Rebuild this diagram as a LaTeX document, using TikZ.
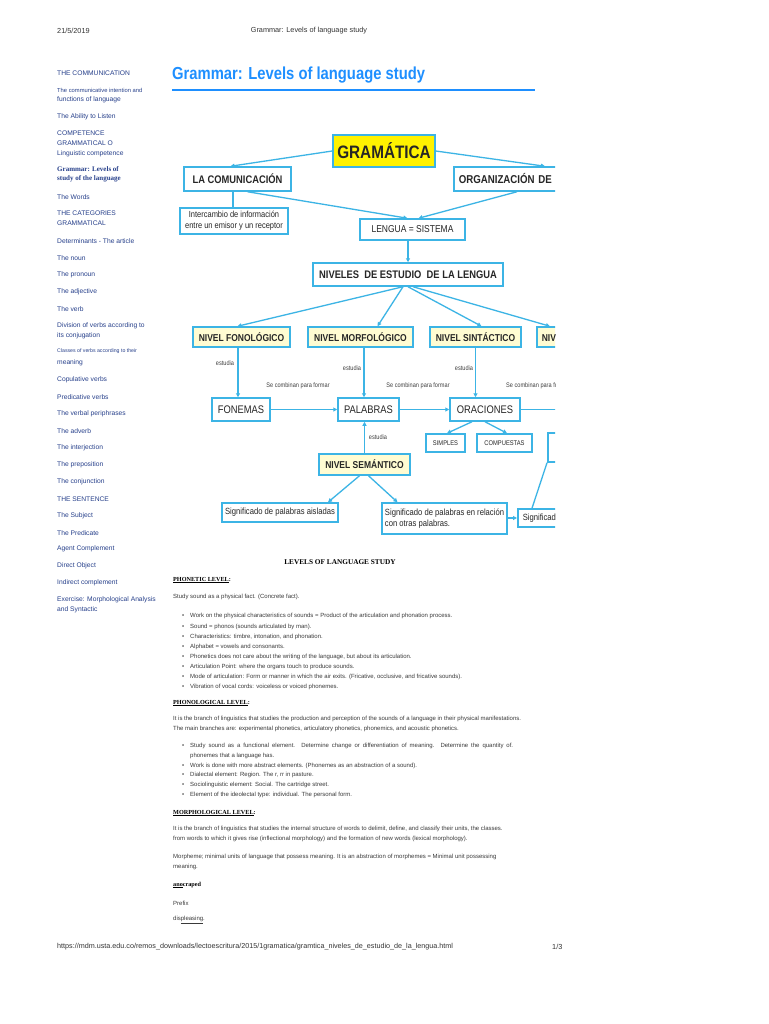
\documentclass[tikz,border=0pt]{standalone}
\usepackage{fontspec}
\setmainfont{Liberation Sans}
\newfontfamily\mapfont[FakeStretch=0.85]{Liberation Sans}
\newfontfamily\docserif{Liberation Serif}
\usetikzlibrary{arrows.meta}

\definecolor{mapcyan}{HTML}{3CB4E5}
\definecolor{lvlfill}{HTML}{FFFCD2}
\definecolor{sideblue}{HTML}{27408B}
\definecolor{titleblue}{HTML}{1E8FFF}
\definecolor{bodygray}{HTML}{3A3A3A}

\tikzset{
  headtext/.style={anchor=west, inner sep=0pt, text=black!80, font=\fontsize{7.3}{8}\selectfont},
  sidetext/.style={anchor=west, inner sep=0pt, text=sideblue, font=\fontsize{6.7}{8}\selectfont},
  bodytext/.style={anchor=west, inner sep=0pt, text=bodygray, font=\fontsize{6}{7}\selectfont},
  bodyhead/.style={anchor=west, inner sep=0pt, text=black, font=\docserif\bfseries\fontsize{6.2}{7}\selectfont},
  mapbox/.style={draw=mapcyan, line width=1.5pt, fill=white, inner sep=1pt, align=center, text=black!85, font=\mapfont\fontsize{11}{12}\selectfont},
  levelbox/.style={mapbox, fill=lvlfill, font=\mapfont\bfseries\fontsize{10}{12}\selectfont},
  cutbox/.style={mapbox, anchor=west, align=left, inner xsep=5pt},
  maparr/.style={draw=mapcyan, line width=1.3pt, -{Triangle[length=4pt,width=4pt]}},
  mapline/.style={draw=mapcyan, line width=1.3pt},
  maplabel/.style={inner sep=0pt, text=black!75, font=\mapfont\fontsize{6.6}{7}\selectfont},
}

\begin{document}
\begin{tikzpicture}[x=1pt,y=-1pt]
\useasboundingbox[fill=white] (0,0) rectangle (768,1024);

% page header and footer
\node[headtext] (date) at (57,31) {21/5/2019};
\node[headtext, anchor=center] (htitle) at (309,31) {Grammar: Levels of language study};
\node[headtext, font=\fontsize{7.2}{8}\selectfont] (url) at (57,947) {https://mdm.usta.edu.co/remos\_downloads/lectoescritura/2015/1gramatica/gramtica\_niveles\_de\_estudio\_de\_la\_lengua.html};
\node[headtext] (pg) at (552,947) {1/3};

% side menu
\foreach \y/\t [count=\i] in {73/{THE COMMUNICATION}, 100/{functions of language},
    117/{The Ability to Listen}, 133/{COMPETENCE}, 143/{GRAMMATICAL O},
    154/{Linguistic competence}, 197/{The Words}, 213/{THE CATEGORIES},
    223/{GRAMMATICAL}, 241/{Determinants - The article}, 258/{The noun},
    275/{The pronoun}, 292/{The adjective}, 309/{The verb},
    326/{Division of verbs according to}, 336/{its conjugation}, 363/{meaning},
    380/{Copulative verbs}, 397/{Predicative verbs}, 414/{The verbal periphrases},
    431/{The adverb}, 448/{The interjection}, 465/{The preposition},
    482/{The conjunction}, 499/{THE SENTENCE}, 516/{The Subject},
    533/{The Predicate}, 549/{Agent Complement}, 566/{Direct Object},
    583/{Indirect complement}, 600/{Exercise: Morphological Analysis}, 610/{and Syntactic}}
  \node[sidetext] (side\i) at (57,\y) {\t};
\node[sidetext, font=\fontsize{5.8}{7}\selectfont] (sidesmall1) at (57,90) {The communicative intention and};
\node[sidetext, font=\fontsize{5.2}{6}\selectfont] (sidesmall2) at (57,351) {Classes of verbs according to their};
\node[sidetext, font=\docserif\bfseries\fontsize{7}{8}\selectfont] (sideserif1) at (57,169) {Grammar: Levels of};
\node[sidetext, font=\docserif\bfseries\fontsize{7}{8}\selectfont] (sideserif2) at (57,179) {study of the language};

% title
\node[anchor=west, inner sep=0pt, text=titleblue, font=\mapfont\bfseries\fontsize{17.4}{20}\selectfont] (title) at (172,75) {Grammar: Levels of language study};
\coordinate (rulestart) at (172,90);
\coordinate (ruleend) at (535,90);
\draw[titleblue, line width=2.5pt] (rulestart) -- (ruleend);

% concept map
\begin{scope}
\clip (165,128) rectangle (555,545);
\node[mapbox, fill=yellow, font=\mapfont\bfseries\fontsize{18}{20}\selectfont, minimum width=102, minimum height=32] (gram) at (384,151) {GRAMÁTICA};
\node[mapbox, font=\mapfont\bfseries\fontsize{11}{12}\selectfont, minimum width=107, minimum height=24] (comu) at (237.5,179) {LA COMUNICACIÓN};
\node[cutbox, font=\mapfont\bfseries\fontsize{11.4}{12}\selectfont, text width=200, minimum height=24] (org) at (453,179) {ORGANIZACIÓN\ DE LA LENGUA};
\node[mapbox, font=\mapfont\fontsize{8.8}{11}\selectfont, minimum width=108, minimum height=26] (inter) at (234,221) {Intercambio de información\\entre un emisor y un receptor};
\node[mapbox, font=\mapfont\fontsize{10}{12}\selectfont, minimum width=105, minimum height=21] (lengua) at (412.5,229.5) {LENGUA = SISTEMA};
\node[mapbox, font=\mapfont\bfseries\fontsize{11}{12}\selectfont, minimum width=190, minimum height=23] (niveles) at (408,274.5) {NIVELES\ \ DE ESTUDIO\ \ DE LA LENGUA};

\node[levelbox, minimum width=97, minimum height=20] (fono) at (241.5,337) {NIVEL FONOLÓGICO};
\node[levelbox, minimum width=105, minimum height=20] (morfo) at (360.5,337) {NIVEL MORFOLÓGICO};
\node[levelbox, minimum width=91, minimum height=20] (sint) at (475.5,337) {NIVEL SINTÁCTICO};
\node[cutbox, fill=lvlfill, font=\mapfont\bfseries\fontsize{10}{12}\selectfont, text width=150, minimum height=20] (nivx) at (536,337) {NIVEL SEMÁNTICO};

\node[mapbox, minimum width=58, minimum height=23] (fonemas) at (241,409.5) {FONEMAS};
\node[mapbox, minimum width=61, minimum height=23] (palabras) at (368.5,409.5) {PALABRAS};
\node[mapbox, minimum width=70, minimum height=23] (oraciones) at (485,409.5) {ORACIONES};
\node[mapbox, font=\mapfont\fontsize{6.8}{8}\selectfont, minimum width=39, minimum height=18] (simples) at (445.5,443) {SIMPLES};
\node[mapbox, font=\mapfont\fontsize{6.8}{8}\selectfont, minimum width=55, minimum height=18] (compuestas) at (504.5,443) {COMPUESTAS};
\node[levelbox, minimum width=91, minimum height=21] (sem) at (364.5,464.5) {NIVEL SEMÁNTICO};

\node[mapbox, font=\mapfont\fontsize{9}{11}\selectfont, minimum width=116, minimum height=19] (sigaisl) at (280,512.5) {Significado de palabras aisladas};
\node[mapbox, font=\mapfont\fontsize{9}{11}\selectfont, align=left, minimum width=125, minimum height=31] (sigrel) at (444.5,518.5) {Significado de palabras en relación\\con otras palabras.};
\node[cutbox, font=\mapfont\fontsize{9}{11}\selectfont, text width=150, minimum height=18] (sigtxt) at (517,518) {Significado de oraciones};
\node[cutbox, text width=40, minimum height=29] (brk) at (547,447.5) {};
\coordinate (oraout) at (600,409.5);

% connectors
\draw[maparr] (gram.west) -- ([xshift=-7]comu.north);
\draw[maparr] (gram.east) -- ([xshift=92]org.north west);
\draw[mapline] ([xshift=-4.5]comu.south) -- ([xshift=-4.5]comu.south |- inter.north);
\draw[maparr] ([xshift=10]comu.south) -- ([xshift=-5]lengua.north);
\draw[maparr] ([xshift=64]org.south west) -- ([xshift=6]lengua.north);
\draw[maparr] (lengua.south -| niveles.north) -- (niveles.north);
\draw[maparr] ([xshift=-5]niveles.south) -- ([xshift=-4]fono.north);
\draw[maparr] ([xshift=-5]niveles.south) -- ([xshift=17]morfo.north);
\draw[maparr] ([xshift=0]niveles.south) -- ([xshift=6]sint.north);
\draw[maparr] ([xshift=5]niveles.south) -- ([xshift=14]nivx.north west);
\draw[maparr] ([xshift=-3.5]fono.south) -- ([xshift=-3.5]fono.south |- fonemas.north);
\draw[maparr] ([xshift=3.5]morfo.south) -- ([xshift=3.5]morfo.south |- palabras.north);
\draw[maparr] (sint.south) -- (sint.south |- oraciones.north);
\draw[maparr] (fonemas.east) -- (palabras.west);
\draw[maparr] (palabras.east) -- (oraciones.west);
\draw[mapline] (oraciones.east) -- (oraout);
\draw[maparr] ([xshift=-13]oraciones.south) -- ([xshift=1.5]simples.north);
\draw[maparr] ([xshift=0]oraciones.south) -- ([xshift=2.5]compuestas.north);
\draw[maparr] (sem.north) -- (sem.north |- palabras.south);
\draw[maparr] ([xshift=-5]sem.south) -- ([xshift=48]sigaisl.north);
\draw[maparr] ([xshift=4]sem.south) -- ([xshift=-47]sigrel.north);
\draw[maparr] (sigrel.east |- sigtxt.west) -- (sigtxt.west);
\draw[mapline] ([xshift=15]sigtxt.north west) -- (brk.south west);

% connector labels
\node[maplabel] (lblfono) at (225,363) {estudia};
\node[maplabel] (lblmorfo) at (352,368) {estudia};
\node[maplabel] (lblsint) at (464,368) {estudia};
\node[maplabel] (lblsem) at (378,437) {estudia};
\node[maplabel] (comb1) at (298,386) {Se combinan para formar};
\node[maplabel] (comb2) at (418,386) {Se combinan para formar};
\node[maplabel, anchor=west] (comb3) at (506,386) {Se combinan para formar};
\end{scope}

% article text
\node[inner sep=0pt, text=black, font=\docserif\bfseries\fontsize{7.3}{8}\selectfont] (levhead) at (340,562) {LEVELS OF LANGUAGE STUDY};
\node[bodyhead] (phonhead) at (173,580) {\underline{PHONETIC LEVEL}:};
\node[bodytext] (phon1) at (173,597) {Study sound as a physical fact. (Concrete fact).};
\foreach \y/\t [count=\i] in {
    616/{Work on the physical characteristics of sounds = Product of the articulation and phonation process.},
    627/{Sound = phonos (sounds articulated by man).},
    637/{Characteristics: timbre, intonation, and phonation.},
    647/{Alphabet = vowels and consonants.},
    657/{Phonetics does not care about the writing of the language, but about its articulation.},
    667/{Articulation Point: where the organs touch to produce sounds.},
    677/{Mode of articulation: Form or manner in which the air exits. (Fricative, occlusive, and fricative sounds).},
    687/{Vibration of vocal cords: voiceless or voiced phonemes.}}
  {\node[bodytext] (phb\i) at (182,\y) {\textbullet};
   \node[bodytext] (pht\i) at (190,\y) {\t};}

\node[bodyhead] (phonolhead) at (173,703) {\underline{PHONOLOGICAL LEVEL}:};
\node[bodytext] (phonol1) at (173,719) {It is the branch of linguistics that studies the production and perception of the sounds of a language in their physical manifestations.};
\node[bodytext] (phonol2) at (173,729) {The main branches are: experimental phonetics, articulatory phonetics, phonemics, and acoustic phonetics.};
\node[bodytext] (plb1) at (182,746) {\textbullet};
\node[bodytext] (plt1) at (190,746) {\makebox[323pt][s]{Study sound as a functional element. Determine change or differentiation of meaning. Determine the quantity of.}};
\node[bodytext] (plt1b) at (190,756) {phonemes that a language has.};
\foreach \y/\t [count=\i from 2] in {
    766/{Work is done with more abstract elements. (Phonemes as an abstraction of a sound).},
    775/{Dialectal element: Region. The r, rr in pasture.},
    785/{Sociolinguistic element: Social. The cartridge street.},
    795/{Element of the ideolectal type: individual. The personal form.}}
  {\node[bodytext] (plb\i) at (182,\y) {\textbullet};
   \node[bodytext] (plt\i) at (190,\y) {\t};}

\node[bodyhead] (morphead) at (173,813) {\underline{MORPHOLOGICAL LEVEL}:};
\node[bodytext] (morph1) at (173,829) {It is the branch of linguistics that studies the internal structure of words to delimit, define, and classify their units, the classes.};
\node[bodytext] (morph2) at (173,839) {from words to which it gives rise (inflectional morphology) and the formation of new words (lexical morphology).};
\node[bodytext] (morph3) at (173,857) {Morpheme; minimal units of language that possess meaning. It is an abstraction of morphemes = Minimal unit possessing};
\node[bodytext] (morph4) at (173,867) {meaning.};
\node[bodyhead] (ex1) at (173,885) {\underline{ano}craped};
\node[bodytext] (ex2) at (173,903) {Prefix};
\node[bodytext] (ex3) at (173,920) {dis\underline{pleasing}.};
\end{tikzpicture}
\end{document}
